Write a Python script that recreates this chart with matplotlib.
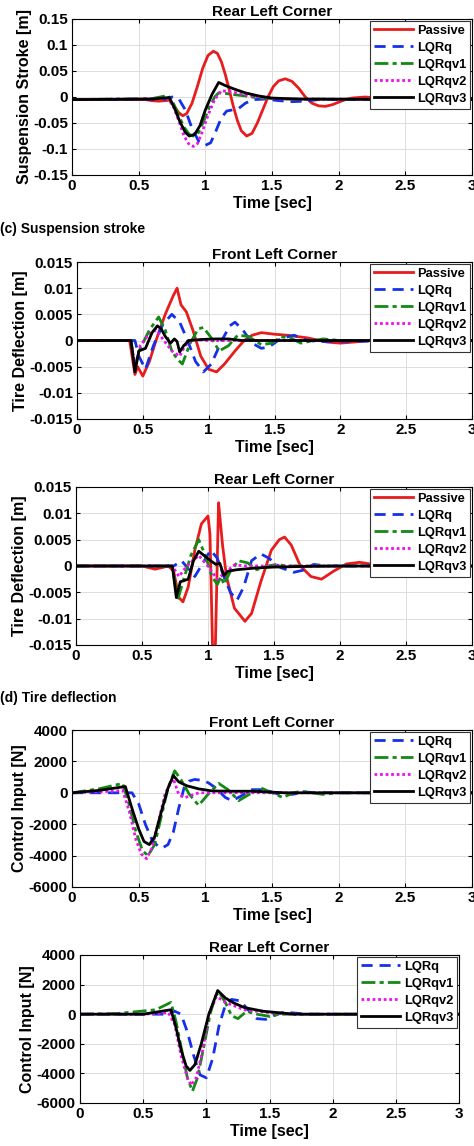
import numpy as np
import matplotlib.pyplot as plt

plt.rcParams['font.family'] = ['Liberation Sans', 'DejaVu Sans']
plt.rcParams['font.weight'] = 'bold'

# ---------------- (c) suspension stroke, rear left ----------------
ss_pas_t = [0, 0.55, 0.6, 0.65, 0.7, 0.73, 0.76, 0.8, 0.83, 0.86, 0.9, 0.94, 0.98, 1.02, 1.06, 1.09, 1.12, 1.15, 1.18, 1.21, 1.24, 1.27, 1.31, 1.35, 1.39, 1.43, 1.47, 1.51, 1.55, 1.6, 1.65, 1.7, 1.75, 1.8, 1.85, 1.9, 1.95, 2.0, 2.05, 2.1, 2.2, 2.3, 2.4, 3.0]
ss_pas_y = [-0.005, -0.005, -0.007, -0.008, -0.007, -0.006, -0.015, -0.03, -0.036, -0.032, -0.012, 0.02, 0.055, 0.08, 0.088, 0.084, 0.068, 0.043, 0.013, -0.018, -0.045, -0.065, -0.075, -0.07, -0.05, -0.025, 0.0, 0.02, 0.031, 0.035, 0.03, 0.017, 0.0, -0.012, -0.017, -0.018, -0.015, -0.01, -0.005, -0.002, 0.0, -0.002, -0.004, -0.004]
ss_q_t = [0, 0.7, 0.75, 0.8, 0.85, 0.9, 0.95, 1.0, 1.04, 1.08, 1.12, 1.16, 1.2, 1.25, 1.3, 1.36, 1.45, 1.55, 1.65, 1.75, 1.85, 3.0]
ss_q_y = [-0.005, -0.004, 0.0, -0.003, -0.025, -0.06, -0.085, -0.093, -0.088, -0.065, -0.04, -0.027, -0.025, -0.022, -0.012, -0.005, -0.004, -0.007, -0.009, -0.008, -0.005, -0.005]
ss_v1_t = [0, 0.6, 0.72, 0.76, 0.8, 0.84, 0.88, 0.91, 0.95, 0.99, 1.03, 1.07, 1.1, 1.15, 1.2, 1.3, 1.4, 1.6, 3.0]
ss_v1_y = [-0.005, -0.003, 0.003, -0.012, -0.035, -0.058, -0.072, -0.075, -0.068, -0.045, -0.02, 0.0, 0.008, 0.007, 0.005, 0.002, -0.002, -0.004, -0.005]
ss_v2_t = [0, 0.72, 0.76, 0.8, 0.84, 0.88, 0.91, 0.94, 0.98, 1.02, 1.07, 1.12, 1.2, 1.3, 1.45, 1.6, 3.0]
ss_v2_y = [-0.005, -0.003, -0.018, -0.045, -0.075, -0.092, -0.095, -0.09, -0.065, -0.035, -0.005, 0.012, 0.01, 0.004, -0.002, -0.004, -0.005]
ss_v3_t = [0, 0.6, 0.73, 0.77, 0.81, 0.85, 0.88, 0.92, 0.96, 1.0, 1.05, 1.1, 1.15, 1.22, 1.3, 1.4, 1.5, 1.7, 3.0]
ss_v3_y = [-0.005, -0.004, -0.001, -0.022, -0.048, -0.068, -0.075, -0.072, -0.055, -0.025, 0.005, 0.028, 0.022, 0.015, 0.008, 0.002, -0.002, -0.004, -0.005]

# ---------------- (d) tire deflection, front left ----------------
tf_pas_t = [0, 0.4, 0.44, 0.46, 0.5, 0.55, 0.6, 0.67, 0.73, 0.76, 0.79, 0.83, 0.88, 0.94, 1.0, 1.06, 1.12, 1.2, 1.27, 1.33, 1.4, 1.5, 1.6, 1.75, 1.9, 2.0, 2.15, 2.3, 3.0]
tf_pas_y = [0, 0, -0.0065, -0.005, -0.0068, -0.004, 0.0, 0.005, 0.0085, 0.01, 0.0068, 0.0055, 0.002, -0.003, -0.0055, -0.006, -0.0045, -0.002, 0.0, 0.001, 0.0015, 0.0012, 0.001, 0.0005, -0.0003, -0.0005, -0.0002, 0.0003, 0]
tf_q_t = [0, 0.44, 0.47, 0.52, 0.58, 0.65, 0.72, 0.78, 0.84, 0.9, 0.96, 1.02, 1.1, 1.16, 1.2, 1.26, 1.33, 1.4, 1.46, 1.55, 1.65, 1.75, 1.85, 3.0]
tf_q_y = [0, 0, -0.003, -0.0055, -0.001, 0.003, 0.005, 0.0035, 0.0, -0.004, -0.006, -0.0045, 0.0, 0.0028, 0.0035, 0.002, -0.0005, -0.0015, -0.0012, 0.0004, 0.001, 0.0, -0.0002, 0]
tf_v1_t = [0, 0.41, 0.44, 0.48, 0.55, 0.62, 0.67, 0.72, 0.76, 0.8, 0.86, 0.92, 0.96, 1.02, 1.08, 1.15, 1.22, 1.3, 1.4, 1.48, 1.55, 1.62, 1.7, 1.8, 1.87, 2.0, 3.0]
tf_v1_y = [0, 0, -0.005, -0.0015, 0.002, 0.0045, 0.002, -0.002, -0.0035, -0.0045, -0.0005, 0.0022, 0.0025, 0.0005, -0.002, -0.001, 0.001, 0.0008, -0.0008, -0.0005, 0.0007, 0.0005, -0.0005, 0.0, 0.0003, 0, 0]
tf_v2_t = [0, 0.41, 0.44, 0.48, 0.54, 0.6, 0.66, 0.72, 0.78, 0.82, 0.88, 1.0, 3.0]
tf_v2_y = [0, 0, -0.005, -0.001, 0.001, 0.002, 0.0, -0.002, -0.003, -0.001, 0.0002, 0, 0]
tf_v3_t = [0, 0.41, 0.44, 0.47, 0.52, 0.57, 0.61, 0.64, 0.67, 0.71, 0.74, 0.76, 0.78, 0.81, 0.85, 0.95, 1.05, 1.15, 1.25, 1.4, 3.0]
tf_v3_y = [0, 0, -0.006, -0.002, -0.0015, 0.0015, 0.0028, 0.0022, 0.0008, -0.0005, 0.0003, -0.0002, -0.0022, -0.001, 0.0, 0.0002, 0.0003, 0.0003, 0.0, 0, 0]

# ---------------- (d) tire deflection, rear left ----------------
tr_pas_t = [0, 0.5, 0.6, 0.7, 0.74, 0.78, 0.81, 0.85, 0.9, 0.95, 1.0, 1.015, 1.035, 1.05, 1.065, 1.08, 1.095, 1.11, 1.14, 1.2, 1.28, 1.33, 1.4, 1.48, 1.54, 1.58, 1.63, 1.7, 1.78, 1.86, 1.95, 2.05, 2.15, 2.25, 2.35, 3.0]
tr_pas_y = [0, 0, -0.0006, 0, -0.001, -0.006, -0.0068, -0.004, 0.003, 0.008, 0.0095, 0.006, -0.016, -0.022, -0.005, 0.012, 0.008, 0.004, -0.002, -0.008, -0.0105, -0.009, -0.003, 0.003, 0.005, 0.0055, 0.004, 0.0, -0.002, -0.0025, -0.001, 0.0004, 0.0007, 0.0003, 0.0, 0]
tr_q_t = [0, 0.74, 0.8, 0.85, 0.9, 0.96, 1.02, 1.07, 1.12, 1.17, 1.22, 1.27, 1.33, 1.4, 1.46, 1.55, 1.65, 1.72, 1.8, 1.9, 3.0]
tr_q_y = [0, 0, 0.001, -0.0005, -0.002, 0.0005, 0.003, 0.0015, -0.002, -0.005, -0.0065, -0.004, 0.001, 0.0023, 0.0015, -0.0003, -0.0012, -0.0008, 0.0003, 0.0, 0]
tr_v1_t = [0, 0.73, 0.77, 0.81, 0.87, 0.93, 0.98, 1.03, 1.07, 1.1, 1.12, 1.17, 1.23, 1.3, 1.37, 1.45, 1.52, 1.6, 3.0]
tr_v1_y = [0, 0, -0.0065, -0.003, 0.002, 0.005, 0.002, -0.002, -0.0035, -0.002, -0.0035, -0.001, 0.001, 0.0006, -0.0007, 0.0, 0.0003, 0, 0]
tr_v2_t = [0, 0.73, 0.78, 0.84, 0.93, 1.0, 1.07, 1.12, 1.2, 1.3, 3.0]
tr_v2_y = [0, 0, -0.002, 0.0, 0.002, 0.0, -0.0025, -0.0015, 0.0002, 0, 0]
tr_v3_t = [0, 0.73, 0.76, 0.79, 0.85, 0.89, 0.93, 0.97, 1.02, 1.06, 1.09, 1.12, 1.15, 1.22, 1.35, 1.5, 1.7, 2.0, 3.0]
tr_v3_y = [0, 0, -0.006, -0.003, -0.0025, 0.001, 0.0028, 0.002, 0.001, 0.0003, 0.0005, -0.0018, -0.001, -0.0007, -0.0004, -0.0002, -0.0001, 0, 0]

# ---------------- control input, front left ----------------
uf_q_t = [0, 0.45, 0.5, 0.55, 0.6, 0.65, 0.68, 0.72, 0.76, 0.8, 0.84, 0.88, 0.92, 0.97, 1.02, 1.08, 1.15, 1.2, 1.27, 1.35, 1.45, 1.55, 1.65, 1.75, 1.85, 2.0, 3.0]
uf_q_y = [0, 0, -700, -2000, -3000, -3450, -3500, -3300, -2500, -1000, 300, 750, 850, 800, 650, 300, -300, -500, -200, 200, 200, -100, -100, 50, 0, 0, 0]
uf_v1_t = [0, 0.2, 0.38, 0.43, 0.48, 0.53, 0.57, 0.62, 0.67, 0.72, 0.77, 0.82, 0.88, 0.95, 1.02, 1.1, 1.17, 1.25, 1.33, 1.42, 1.5, 1.58, 1.66, 1.72, 1.8, 1.88, 2.0, 3.0]
uf_v1_y = [0, 250, 600, -800, -2500, -3700, -4000, -3300, -1500, 300, 1400, 800, -100, -800, -100, 600, 200, -500, -100, 300, 0, -300, 0, 100, 0, -100, 0, 0]
uf_v2_t = [0, 0.3, 0.38, 0.43, 0.48, 0.52, 0.56, 0.6, 0.65, 0.7, 0.76, 0.8, 0.85, 0.95, 3.0]
uf_v2_y = [0, 100, 150, -1200, -3000, -3900, -4200, -3500, -1800, 0, 900, -100, -300, 0, 0]
uf_v3_t = [0, 0.2, 0.4, 0.45, 0.5, 0.54, 0.58, 0.62, 0.67, 0.72, 0.76, 0.8, 0.86, 0.95, 1.05, 1.2, 1.35, 1.6, 3.0]
uf_v3_y = [0, 150, 400, -1000, -2300, -3100, -3300, -2800, -1200, 300, 1100, 700, 450, 250, 120, 100, 100, 0, 0]

# ---------------- control input, rear left ----------------
ur_q_t = [0, 0.7, 0.75, 0.8, 0.85, 0.9, 0.95, 1.0, 1.05, 1.1, 1.15, 1.2, 1.27, 1.33, 1.4, 1.47, 1.53, 1.6, 1.67, 1.8, 3.0]
ur_q_y = [0, 0, 200, 0, -1200, -2800, -4100, -4300, -3000, -800, 600, 1000, 900, 300, -300, -350, -100, 100, 100, 0, 0]
ur_v1_t = [0, 0.3, 0.6, 0.72, 0.76, 0.8, 0.85, 0.89, 0.93, 0.98, 1.03, 1.07, 1.1, 1.15, 1.2, 1.25, 1.32, 1.4, 1.5, 1.58, 1.7, 3.0]
ur_v1_y = [0, 50, 300, 800, -500, -2200, -4300, -5200, -4300, -2200, 0, 1200, 1500, 800, -100, -300, 200, 0, -150, 0, 0, 0]
ur_v2_t = [0, 0.5, 0.7, 0.75, 0.8, 0.85, 0.88, 0.92, 0.97, 1.02, 1.08, 1.15, 1.3, 1.5, 1.7, 3.0]
ur_v2_y = [0, 0, 100, -700, -2800, -4300, -4800, -4300, -2500, 0, 1200, 800, 300, 100, 0, 0]
ur_v3_t = [0, 0.5, 0.72, 0.76, 0.8, 0.84, 0.87, 0.91, 0.96, 1.02, 1.09, 1.15, 1.22, 1.3, 1.45, 1.7, 3.0]
ur_v3_y = [0, 0, 300, -900, -2400, -3500, -3800, -3400, -2000, 0, 1600, 1100, 750, 450, 200, 0, 0]

names = ['Passive', 'LQRq', 'LQRqv1', 'LQRqv2', 'LQRqv3']
styles = {
    'Passive': dict(color='#e81c1c', ls='-', lw=2.0),
    'LQRq': dict(color='#1530e8', ls=(0, (4, 2.5)), lw=2.0),
    'LQRqv1': dict(color='#138a13', ls=(0, (5, 1.5, 1.5, 1.5)), lw=2.0),
    'LQRqv2': dict(color='#ee11ee', ls=(0, (1, 1)), lw=2.0),
    'LQRqv3': dict(color='black', ls='-', lw=2.0),
}

W, H = 474, 1146
fig = plt.figure(figsize=(W / 100, H / 100), dpi=100)


def make_ax(x0, y0, x1, y1):
    return fig.add_axes([x0 / W, 1 - y1 / H, (x1 - x0) / W, (y1 - y0) / H])


def decorate(a, title, ylabel, ylim, yticks, yfmt):
    a.set_xlim(0, 3)
    a.set_ylim(*ylim)
    a.set_xticks([0, 0.5, 1, 1.5, 2, 2.5, 3])
    a.set_xticklabels(['0', '0.5', '1', '1.5', '2', '2.5', '3'])
    a.set_yticks(yticks)
    a.set_yticklabels([yfmt(v) for v in yticks])
    a.grid(True, color='#dddddd', lw=0.7)
    a.set_axisbelow(True)
    a.tick_params(direction='in', top=True, right=True, labelsize=11, length=3, pad=3)
    for lab in a.get_xticklabels() + a.get_yticklabels():
        lab.set_fontweight('bold')
    a.set_title(title, fontsize=11, fontweight='bold', pad=2)
    a.set_xlabel('Time [sec]', fontsize=11.5, fontweight='bold', labelpad=2)
    a.set_ylabel(ylabel, fontsize=11.5, fontweight='bold', labelpad=1)
    leg = a.legend(loc='upper right', handlelength=3.0, fancybox=False,
                   framealpha=1, edgecolor='#333333', borderaxespad=0.15,
                   borderpad=0.3, labelspacing=0.38, handletextpad=0.3,
                   prop=dict(weight='bold', size=9.3))
    leg.get_frame().set_linewidth(0.8)


def fmt_g(v):
    return '%g' % v


# panel 1
ax1 = make_ax(72, 19, 472, 175)
for n, t, y in zip(names, [ss_pas_t, ss_q_t, ss_v1_t, ss_v2_t, ss_v3_t],
                   [ss_pas_y, ss_q_y, ss_v1_y, ss_v2_y, ss_v3_y]):
    ax1.plot(t, y, label=n, **styles[n])
decorate(ax1, 'Rear Left Corner', 'Suspension Stroke [m]', (-0.15, 0.15),
         [-0.15, -0.1, -0.05, 0, 0.05, 0.1, 0.15], fmt_g)

# panel 2
ax2 = make_ax(77, 262, 472, 419)
for n, t, y in zip(names, [tf_pas_t, tf_q_t, tf_v1_t, tf_v2_t, tf_v3_t],
                   [tf_pas_y, tf_q_y, tf_v1_y, tf_v2_y, tf_v3_y]):
    ax2.plot(t, y, label=n, **styles[n])
decorate(ax2, 'Front Left Corner', 'Tire Deflection [m]', (-0.015, 0.015),
         [-0.015, -0.01, -0.005, 0, 0.005, 0.01, 0.015], fmt_g)

# panel 3
ax3 = make_ax(76, 487, 472, 645)
for n, t, y in zip(names, [tr_pas_t, tr_q_t, tr_v1_t, tr_v2_t, tr_v3_t],
                   [tr_pas_y, tr_q_y, tr_v1_y, tr_v2_y, tr_v3_y]):
    ax3.plot(t, y, label=n, **styles[n])
decorate(ax3, 'Rear Left Corner', 'Tire Deflection [m]', (-0.015, 0.015),
         [-0.015, -0.01, -0.005, 0, 0.005, 0.01, 0.015], fmt_g)

# panel 4
ax4 = make_ax(72, 730, 472, 887)
for n, t, y in zip(names[1:], [uf_q_t, uf_v1_t, uf_v2_t, uf_v3_t],
                   [uf_q_y, uf_v1_y, uf_v2_y, uf_v3_y]):
    ax4.plot(t, y, label=n, **styles[n])
decorate(ax4, 'Front Left Corner', 'Control Input [N]', (-6000, 4000),
         [-6000, -4000, -2000, 0, 2000, 4000], lambda v: '%d' % v)

# panel 5
ax5 = make_ax(80, 955, 459, 1103)
for n, t, y in zip(names[1:], [ur_q_t, ur_v1_t, ur_v2_t, ur_v3_t],
                   [ur_q_y, ur_v1_y, ur_v2_y, ur_v3_y]):
    ax5.plot(t, y, label=n, **styles[n])
decorate(ax5, 'Rear Left Corner', 'Control Input [N]', (-6000, 4000),
         [-6000, -4000, -2000, 0, 2000, 4000], lambda v: '%d' % v)

fig.text(0.0, 1 - 229 / H, '(c) Suspension stroke', fontsize=10, fontweight='bold', va='center')
fig.text(0.0, 1 - 698 / H, '(d) Tire deflection', fontsize=10, fontweight='bold', va='center')

fig.savefig('out.png', dpi=100)
